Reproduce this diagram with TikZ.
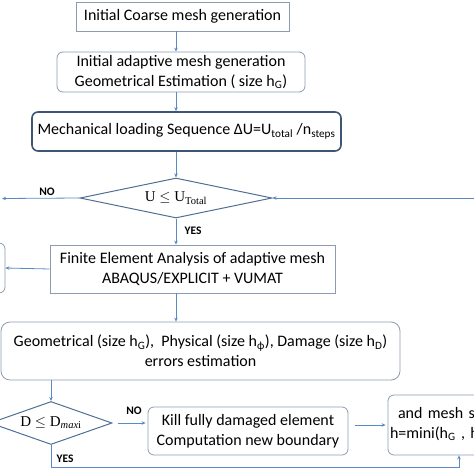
\documentclass[tikz,border=0pt]{standalone}
\usepackage{fontspec}
\setmainfont{Carlito}
\newfontfamily\tnr{Liberation Serif}
\usetikzlibrary{arrows.meta,shapes.geometric}
\definecolor{arrowblue}{HTML}{5A8AC2}
\definecolor{boxgray}{HTML}{8C9CB0}
\definecolor{darkslate}{HTML}{3C5674}
\definecolor{diamblue}{HTML}{4F6F93}

\begin{document}
\begin{tikzpicture}[x=1pt,y=-1pt,
    box/.style={draw=boxgray,line width=0.8pt,inner sep=0pt,align=center,
      font=\fontsize{16}{20}\selectfont},
    rbox/.style={box,rounded corners=6pt},
    mainbox/.style={rbox,draw=darkslate,line width=1.6pt},
    decision/.style={diamond,draw=diamblue,line width=1pt,inner sep=0pt,aspect=4,
      font=\tnr\fontsize{15}{18}\selectfont},
    arr/.style={draw=arrowblue,line width=0.8pt,-{Stealth[length=4pt,width=3.5pt]}},
    lab/.style={font=\bfseries\fontsize{11.5}{13}\selectfont}]
      \useasboundingbox (0,0) rectangle (474,474);
      \clip (0,0) rectangle (474,474);

      % boxes
      \node[box,minimum width=213pt,minimum height=29pt] (init) at (182.5,16.5)
        {Initial Coarse mesh generation};
      \node[rbox,minimum width=248pt,minimum height=40pt] (adapt) at (181,72)
        {Initial adaptive mesh generation\\Geometrical Estimation ( size h\textsubscript{G})};
      \node[mainbox,minimum width=309pt,minimum height=39pt] (load) at (186.5,131.5)
        {Mechanical loading Sequence ΔU=U\textsubscript{total} /n\textsubscript{steps}};
      \node[decision,minimum width=192pt,minimum height=40pt] (test) at (176,198)
        {U $\leq$ U\textsubscript{Total}};
      \node[rbox,minimum width=105pt,minimum height=50pt] (prev) at (-47.5,268) {};
      \node[box,minimum width=285pt,minimum height=48pt] (fea) at (192.5,269)
        {Finite Element Analysis of adaptive mesh\\ABAQUS/EXPLICIT + VUMAT};
      \node[rbox,rounded corners=9pt,minimum width=399pt,minimum height=58pt] (est) at (200.5,351)
        {Geometrical (size h\textsubscript{G}),\ \ Physical (size h\textsubscript{ϕ}), Damage (size h\textsubscript{D})\\errors estimation};
      \node[decision,aspect=2.8,minimum width=122pt,minimum height=43pt] (test2) at (51,423)
        {D $\leq$ D\textsubscript{\textit{max}i}};
      \node[rbox,minimum width=200pt,minimum height=48pt] (kill) at (248,431)
        {Kill fully damaged element\\Computation new boundary};
      \node[rbox,align=left,inner xsep=2pt,text width=176pt,minimum height=60pt] (mesh) at (478,425)
        {\hspace*{8pt}and mesh size\\h=mini(h\textsubscript{G} , h\textsubscript{ϕ} , h\textsubscript{D})};

      % connectors
      \coordinate (noout) at (2,198.5);
      \coordinate (loopin) at (476,198);
      \coordinate (yescorner) at (459,467);
      \draw[arr] (init.south -| test) -- (adapt.north -| test);
      \draw[arr] (adapt.south -| test) -- (load.north -| test);
      \draw[arr] (load.south -| test) -- (test.north);
      \draw[arr] (test.west) -- (noout);
      \draw[arr] (loopin) -- (test.east);
      \draw[arr] (test.south) -- (fea.north -| test);
      \draw[arr] (fea.west) -- (prev.east);
      \draw[arr] (fea.south -| test) -- (est.north -| test);
      \draw[arr] (est.south -| test2) -- (test2.north);
      \draw[arr,shorten <=5pt,shorten >=2pt] (test2.east) -- (test2.east -| kill.west);
      \draw[arr,shorten <=7pt,shorten >=2pt] (kill.east |- mesh) -- (mesh.west);
      \draw[arr] (test2.south) |- (yescorner) -- (yescorner |- mesh.south);

      % labels
      \node[lab] (nolab) at (47,192) {NO};
      \node[lab] (yeslab) at (193,231) {YES};
      \node[lab] (nolab2) at (134,411) {NO};
      \node[lab] (yeslab2) at (65,459) {YES};
\end{tikzpicture}
\end{document}
